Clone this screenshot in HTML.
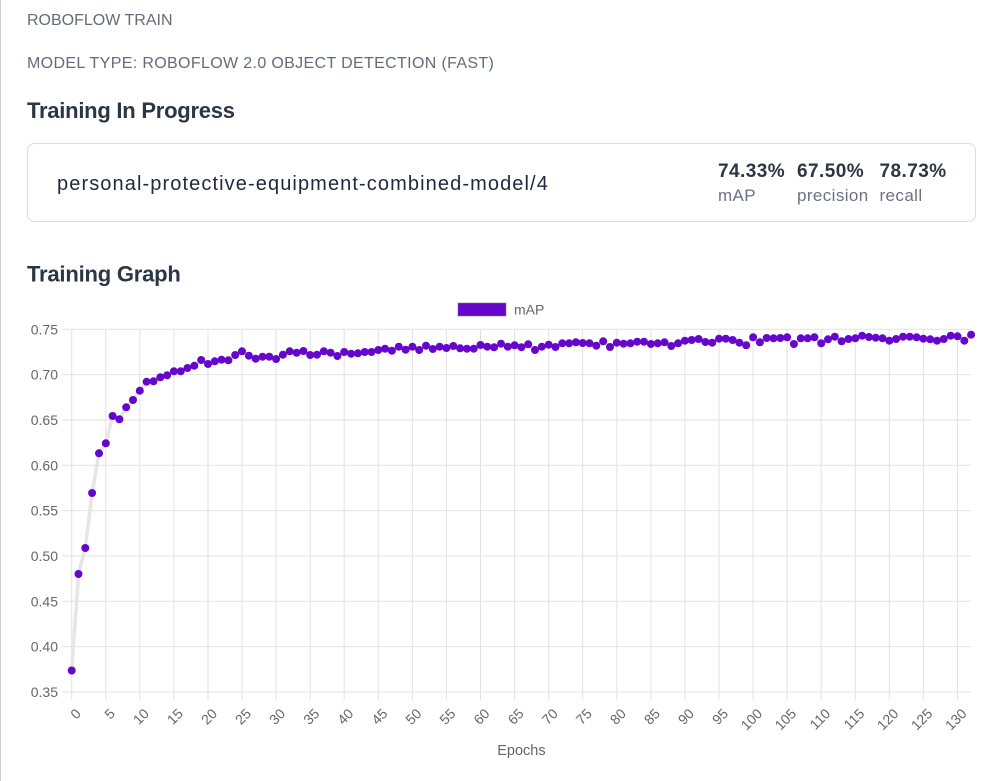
<!DOCTYPE html>
<html>
<head>
<meta charset="utf-8">
<style>
html,body{margin:0;padding:0;background:#fff;}
body{width:1000px;height:781px;overflow:hidden;position:relative;font-family:"Liberation Sans",Arial,sans-serif;}
svg{position:absolute;left:0;top:0;}
</style>
</head>
<body>
<svg width="1000" height="781" viewBox="0 0 1000 781" xmlns="http://www.w3.org/2000/svg" font-family="Liberation Sans, Arial, sans-serif">
  <rect x="0" y="0" width="1000" height="781" fill="#fff"/>
  <line x1="0.5" y1="0" x2="0.5" y2="781" stroke="#cfcfcf" stroke-width="1"/>

  <!-- Header -->
  <text x="27" y="25" font-size="16" fill="#636c78">ROBOFLOW TRAIN</text>
  <text x="27" y="68" font-size="16" fill="#636c78" letter-spacing="0.35">MODEL TYPE: ROBOFLOW 2.0 OBJECT DETECTION (FAST)</text>
  <text x="27" y="118" font-size="22" font-weight="bold" fill="#2b3544" letter-spacing="-0.25">Training In Progress</text>

  <!-- Card -->
  <rect x="27.5" y="143.5" width="948" height="78" rx="7" ry="7" fill="#fff" stroke="#d9dde3" stroke-width="1"/>
  <text x="57" y="190" font-size="20" fill="#1e293b" letter-spacing="1.1">personal-protective-equipment-combined-model/4</text>
  <text x="718" y="177" font-size="19" font-weight="bold" fill="#2b3544" letter-spacing="0.45">74.33%</text>
  <text x="797" y="177" font-size="19" font-weight="bold" fill="#2b3544" letter-spacing="0.45">67.50%</text>
  <text x="879.5" y="177" font-size="19" font-weight="bold" fill="#2b3544" letter-spacing="0.45">78.73%</text>
  <text x="718" y="201" font-size="17" fill="#6b7280" letter-spacing="0.4">mAP</text>
  <text x="797" y="201" font-size="17" fill="#6b7280" letter-spacing="0.4">precision</text>
  <text x="879.5" y="201" font-size="17" fill="#6b7280" letter-spacing="0.4">recall</text>

  <text x="27" y="281.5" font-size="22" font-weight="bold" fill="#2b3544" letter-spacing="-0.2">Training Graph</text>

  <!-- Legend -->
  <rect x="457.5" y="302.5" width="49" height="14" fill="#6606cc" stroke="#dcdcdc" stroke-width="1.2"/>
  <text x="514" y="309.5" font-size="14" fill="#666" dominant-baseline="central">mAP</text>

  <!-- Horizontal grid -->
  <g stroke="#e2e2e2" stroke-width="1">
    <line x1="62" y1="329.3" x2="971" y2="329.3"/>
    <line x1="62" y1="374.6" x2="971" y2="374.6"/>
    <line x1="62" y1="420" x2="971" y2="420"/>
    <line x1="62" y1="465.3" x2="971" y2="465.3"/>
    <line x1="62" y1="510.6" x2="971" y2="510.6"/>
    <line x1="62" y1="555.9" x2="971" y2="555.9"/>
    <line x1="62" y1="601.3" x2="971" y2="601.3"/>
    <line x1="62" y1="646.6" x2="971" y2="646.6"/>
    <line x1="62" y1="691.9" x2="971" y2="691.9"/>
  </g>
  <!-- Vertical grid -->
  <g stroke="#e2e2e2" stroke-width="1">
    <line x1="71.7" y1="329.3" x2="71.7" y2="700"/>
    <line x1="105.8" y1="329.3" x2="105.8" y2="700"/>
    <line x1="139.8" y1="329.3" x2="139.8" y2="700"/>
    <line x1="173.9" y1="329.3" x2="173.9" y2="700"/>
    <line x1="208.0" y1="329.3" x2="208.0" y2="700"/>
    <line x1="242.0" y1="329.3" x2="242.0" y2="700"/>
    <line x1="276.1" y1="329.3" x2="276.1" y2="700"/>
    <line x1="310.2" y1="329.3" x2="310.2" y2="700"/>
    <line x1="344.2" y1="329.3" x2="344.2" y2="700"/>
    <line x1="378.3" y1="329.3" x2="378.3" y2="700"/>
    <line x1="412.4" y1="329.3" x2="412.4" y2="700"/>
    <line x1="446.4" y1="329.3" x2="446.4" y2="700"/>
    <line x1="480.5" y1="329.3" x2="480.5" y2="700"/>
    <line x1="514.6" y1="329.3" x2="514.6" y2="700"/>
    <line x1="548.7" y1="329.3" x2="548.7" y2="700"/>
    <line x1="582.7" y1="329.3" x2="582.7" y2="700"/>
    <line x1="616.8" y1="329.3" x2="616.8" y2="700"/>
    <line x1="650.9" y1="329.3" x2="650.9" y2="700"/>
    <line x1="684.9" y1="329.3" x2="684.9" y2="700"/>
    <line x1="719.0" y1="329.3" x2="719.0" y2="700"/>
    <line x1="753.1" y1="329.3" x2="753.1" y2="700"/>
    <line x1="787.1" y1="329.3" x2="787.1" y2="700"/>
    <line x1="821.2" y1="329.3" x2="821.2" y2="700"/>
    <line x1="855.3" y1="329.3" x2="855.3" y2="700"/>
    <line x1="889.3" y1="329.3" x2="889.3" y2="700"/>
    <line x1="923.4" y1="329.3" x2="923.4" y2="700"/>
    <line x1="957.5" y1="329.3" x2="957.5" y2="700"/>
  </g>

  <!-- Y labels -->
  <g font-size="14" fill="#666" text-anchor="end" dominant-baseline="central">
    <text x="58" y="329.3">0.75</text>
    <text x="58" y="374.6">0.70</text>
    <text x="58" y="420">0.65</text>
    <text x="58" y="465.3">0.60</text>
    <text x="58" y="510.6">0.55</text>
    <text x="58" y="555.9">0.50</text>
    <text x="58" y="601.3">0.45</text>
    <text x="58" y="646.6">0.40</text>
    <text x="58" y="691.9">0.35</text>
  </g>

  <!-- X labels -->
  <g font-size="14" fill="#666" text-anchor="end" dominant-baseline="central">
    <text transform="translate(78.2,711) rotate(-45)">0</text>
    <text transform="translate(112.3,711) rotate(-45)">5</text>
    <text transform="translate(146.3,711) rotate(-45)">10</text>
    <text transform="translate(180.4,711) rotate(-45)">15</text>
    <text transform="translate(214.5,711) rotate(-45)">20</text>
    <text transform="translate(248.5,711) rotate(-45)">25</text>
    <text transform="translate(282.6,711) rotate(-45)">30</text>
    <text transform="translate(316.7,711) rotate(-45)">35</text>
    <text transform="translate(350.7,711) rotate(-45)">40</text>
    <text transform="translate(384.8,711) rotate(-45)">45</text>
    <text transform="translate(418.9,711) rotate(-45)">50</text>
    <text transform="translate(452.9,711) rotate(-45)">55</text>
    <text transform="translate(487.0,711) rotate(-45)">60</text>
    <text transform="translate(521.1,711) rotate(-45)">65</text>
    <text transform="translate(555.2,711) rotate(-45)">70</text>
    <text transform="translate(589.2,711) rotate(-45)">75</text>
    <text transform="translate(623.3,711) rotate(-45)">80</text>
    <text transform="translate(657.4,711) rotate(-45)">85</text>
    <text transform="translate(691.4,711) rotate(-45)">90</text>
    <text transform="translate(725.5,711) rotate(-45)">95</text>
    <text transform="translate(759.6,711) rotate(-45)">100</text>
    <text transform="translate(793.6,711) rotate(-45)">105</text>
    <text transform="translate(827.7,711) rotate(-45)">110</text>
    <text transform="translate(861.8,711) rotate(-45)">115</text>
    <text transform="translate(895.8,711) rotate(-45)">120</text>
    <text transform="translate(929.9,711) rotate(-45)">125</text>
    <text transform="translate(964.0,711) rotate(-45)">130</text>
  </g>
  <text x="521.4" y="755" font-size="14.5" fill="#666" text-anchor="middle">Epochs</text>

  <!-- Line -->
  <polyline fill="none" stroke="#e6e6e6" stroke-width="3.5" stroke-linejoin="round" points="
71.7,670.5 78.5,574 85.3,548 92.1,493 99.0,453.3 105.8,443.3 112.6,416 119.4,419.3 126.2,407.3 133.0,400
139.8,390.7 146.6,381.7 153.5,381.3 160.3,377.3 167.1,375.3 173.9,371.3 180.7,371.3 187.5,368 194.3,365.7 201.2,360
208.0,364 214.8,361.3 221.6,359.7 228.4,360.3 235.2,355 242.0,351.3 248.9,355.7 255.7,358.7 262.5,356.7 269.3,356.7
276.1,359 282.9,354.7 289.7,351.3 296.6,352.8 303.4,351 310.2,355 317.0,354.7 323.8,351.3 330.6,352.7 337.4,356
344.2,352 351.1,353.7 357.9,353.3 364.7,352 371.5,352 378.3,350 385.1,348.7 391.9,350.7 398.8,346.7 405.6,349.7
412.4,346.7 419.2,350 426.0,345.7 432.8,349 439.6,346.7 446.4,348 453.3,346 460.1,348.3 466.9,348.7 473.7,348.7
480.5,345 487.3,346.7 494.1,347.3 501.0,343.7 507.8,346.7 514.6,345.3 521.4,347.2 528.2,344.3 535.0,350 541.8,346.7
548.7,344.7 555.5,347 562.3,343.3 569.1,343.3 575.9,342.3 582.7,343 589.5,343.3 596.3,345.7 603.2,341.3 610.0,347
616.8,342.7 623.6,343.7 630.4,343.3 637.2,341.7 644.0,341.7 650.9,344 657.7,343.3 664.5,342.3 671.3,346 678.1,343.3
684.9,340.7 691.7,340 698.6,339 705.4,342 712.2,342.7 719.0,338.7 725.8,338.7 732.6,340 739.4,342.7 746.2,345.3
753.1,337.3 759.9,342.3 766.7,338 773.5,338.3 780.3,338 787.1,337.3 793.9,344 800.8,338.3 807.6,338.3 814.4,337.3
821.2,343.3 828.0,339.3 834.8,336.7 841.6,341.3 848.5,339 855.3,338.3 862.1,335.7 868.9,337 875.7,337.7 882.5,338.3
889.3,340.7 896.1,339 903.0,336.7 909.8,336.7 916.6,337.3 923.4,338.7 930.2,339.3 937.0,340.7 943.8,339 950.7,335.7
957.5,336.3 964.3,340.7 971.1,334.7"/>

  <!-- Points -->
  <g fill="#6606cc">
    <circle cx="71.7" cy="670.5" r="4"/><circle cx="78.5" cy="574" r="4"/><circle cx="85.3" cy="548" r="4"/><circle cx="92.1" cy="493" r="4"/><circle cx="99.0" cy="453.3" r="4"/>
    <circle cx="105.8" cy="443.3" r="4"/><circle cx="112.6" cy="416" r="4"/><circle cx="119.4" cy="419.3" r="4"/><circle cx="126.2" cy="407.3" r="4"/><circle cx="133.0" cy="400" r="4"/>
    <circle cx="139.8" cy="390.7" r="4"/><circle cx="146.6" cy="381.7" r="4"/><circle cx="153.5" cy="381.3" r="4"/><circle cx="160.3" cy="377.3" r="4"/><circle cx="167.1" cy="375.3" r="4"/>
    <circle cx="173.9" cy="371.3" r="4"/><circle cx="180.7" cy="371.3" r="4"/><circle cx="187.5" cy="368" r="4"/><circle cx="194.3" cy="365.7" r="4"/><circle cx="201.2" cy="360" r="4"/>
    <circle cx="208.0" cy="364" r="4"/><circle cx="214.8" cy="361.3" r="4"/><circle cx="221.6" cy="359.7" r="4"/><circle cx="228.4" cy="360.3" r="4"/><circle cx="235.2" cy="355" r="4"/>
    <circle cx="242.0" cy="351.3" r="4"/><circle cx="248.9" cy="355.7" r="4"/><circle cx="255.7" cy="358.7" r="4"/><circle cx="262.5" cy="356.7" r="4"/><circle cx="269.3" cy="356.7" r="4"/>
    <circle cx="276.1" cy="359" r="4"/><circle cx="282.9" cy="354.7" r="4"/><circle cx="289.7" cy="351.3" r="4"/><circle cx="296.6" cy="352.8" r="4"/><circle cx="303.4" cy="351" r="4"/>
    <circle cx="310.2" cy="355" r="4"/><circle cx="317.0" cy="354.7" r="4"/><circle cx="323.8" cy="351.3" r="4"/><circle cx="330.6" cy="352.7" r="4"/><circle cx="337.4" cy="356" r="4"/>
    <circle cx="344.2" cy="352" r="4"/><circle cx="351.1" cy="353.7" r="4"/><circle cx="357.9" cy="353.3" r="4"/><circle cx="364.7" cy="352" r="4"/><circle cx="371.5" cy="352" r="4"/>
    <circle cx="378.3" cy="350" r="4"/><circle cx="385.1" cy="348.7" r="4"/><circle cx="391.9" cy="350.7" r="4"/><circle cx="398.8" cy="346.7" r="4"/><circle cx="405.6" cy="349.7" r="4"/>
    <circle cx="412.4" cy="346.7" r="4"/><circle cx="419.2" cy="350" r="4"/><circle cx="426.0" cy="345.7" r="4"/><circle cx="432.8" cy="349" r="4"/><circle cx="439.6" cy="346.7" r="4"/>
    <circle cx="446.4" cy="348" r="4"/><circle cx="453.3" cy="346" r="4"/><circle cx="460.1" cy="348.3" r="4"/><circle cx="466.9" cy="348.7" r="4"/><circle cx="473.7" cy="348.7" r="4"/>
    <circle cx="480.5" cy="345" r="4"/><circle cx="487.3" cy="346.7" r="4"/><circle cx="494.1" cy="347.3" r="4"/><circle cx="501.0" cy="343.7" r="4"/><circle cx="507.8" cy="346.7" r="4"/>
    <circle cx="514.6" cy="345.3" r="4"/><circle cx="521.4" cy="347.2" r="4"/><circle cx="528.2" cy="344.3" r="4"/><circle cx="535.0" cy="350" r="4"/><circle cx="541.8" cy="346.7" r="4"/>
    <circle cx="548.7" cy="344.7" r="4"/><circle cx="555.5" cy="347" r="4"/><circle cx="562.3" cy="343.3" r="4"/><circle cx="569.1" cy="343.3" r="4"/><circle cx="575.9" cy="342.3" r="4"/>
    <circle cx="582.7" cy="343" r="4"/><circle cx="589.5" cy="343.3" r="4"/><circle cx="596.3" cy="345.7" r="4"/><circle cx="603.2" cy="341.3" r="4"/><circle cx="610.0" cy="347" r="4"/>
    <circle cx="616.8" cy="342.7" r="4"/><circle cx="623.6" cy="343.7" r="4"/><circle cx="630.4" cy="343.3" r="4"/><circle cx="637.2" cy="341.7" r="4"/><circle cx="644.0" cy="341.7" r="4"/>
    <circle cx="650.9" cy="344" r="4"/><circle cx="657.7" cy="343.3" r="4"/><circle cx="664.5" cy="342.3" r="4"/><circle cx="671.3" cy="346" r="4"/><circle cx="678.1" cy="343.3" r="4"/>
    <circle cx="684.9" cy="340.7" r="4"/><circle cx="691.7" cy="340" r="4"/><circle cx="698.6" cy="339" r="4"/><circle cx="705.4" cy="342" r="4"/><circle cx="712.2" cy="342.7" r="4"/>
    <circle cx="719.0" cy="338.7" r="4"/><circle cx="725.8" cy="338.7" r="4"/><circle cx="732.6" cy="340" r="4"/><circle cx="739.4" cy="342.7" r="4"/><circle cx="746.2" cy="345.3" r="4"/>
    <circle cx="753.1" cy="337.3" r="4"/><circle cx="759.9" cy="342.3" r="4"/><circle cx="766.7" cy="338" r="4"/><circle cx="773.5" cy="338.3" r="4"/><circle cx="780.3" cy="338" r="4"/>
    <circle cx="787.1" cy="337.3" r="4"/><circle cx="793.9" cy="344" r="4"/><circle cx="800.8" cy="338.3" r="4"/><circle cx="807.6" cy="338.3" r="4"/><circle cx="814.4" cy="337.3" r="4"/>
    <circle cx="821.2" cy="343.3" r="4"/><circle cx="828.0" cy="339.3" r="4"/><circle cx="834.8" cy="336.7" r="4"/><circle cx="841.6" cy="341.3" r="4"/><circle cx="848.5" cy="339" r="4"/>
    <circle cx="855.3" cy="338.3" r="4"/><circle cx="862.1" cy="335.7" r="4"/><circle cx="868.9" cy="337" r="4"/><circle cx="875.7" cy="337.7" r="4"/><circle cx="882.5" cy="338.3" r="4"/>
    <circle cx="889.3" cy="340.7" r="4"/><circle cx="896.1" cy="339" r="4"/><circle cx="903.0" cy="336.7" r="4"/><circle cx="909.8" cy="336.7" r="4"/><circle cx="916.6" cy="337.3" r="4"/>
    <circle cx="923.4" cy="338.7" r="4"/><circle cx="930.2" cy="339.3" r="4"/><circle cx="937.0" cy="340.7" r="4"/><circle cx="943.8" cy="339" r="4"/><circle cx="950.7" cy="335.7" r="4"/>
    <circle cx="957.5" cy="336.3" r="4"/><circle cx="964.3" cy="340.7" r="4"/><circle cx="971.1" cy="334.7" r="4"/>
  </g>
</svg>
</body>
</html>
